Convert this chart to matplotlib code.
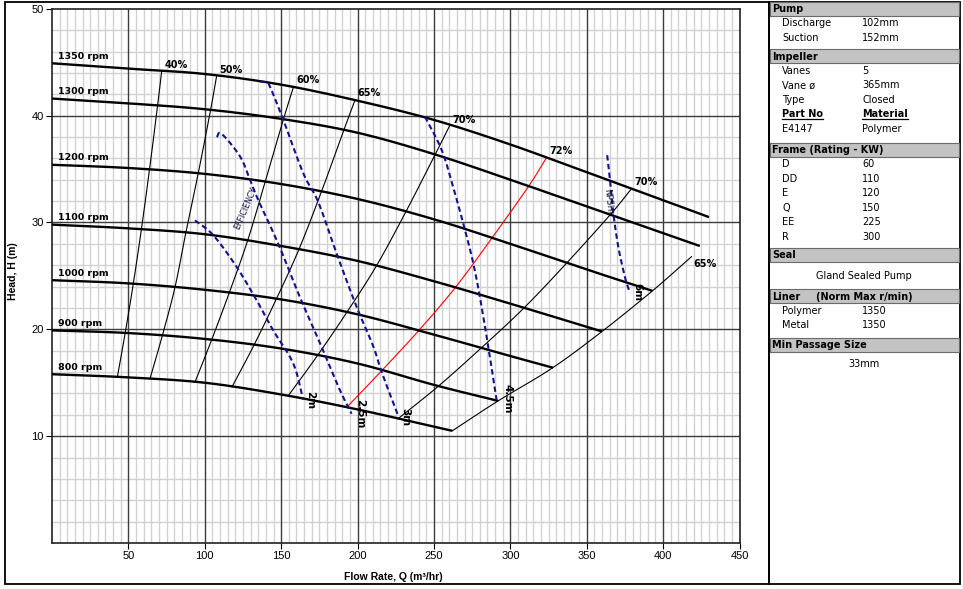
import numpy as np
import matplotlib
matplotlib.use("Agg")
import matplotlib.pyplot as plt
from matplotlib.patches import Rectangle

# ---------------- data ----------------
speeds = [800, 900, 1000, 1100, 1200, 1300, 1350]
speed_labels = ["800 rpm", "900 rpm", "1000 rpm", "1100 rpm", "1200 rpm", "1300 rpm", "1350 rpm"]

q_800 = [0, 50, 100, 150, 200, 262]
h_800 = [15.8, 15.5, 15.0, 13.9, 12.5, 10.5]
q_900 = [0, 50, 100, 150, 200, 250, 292]
h_900 = [19.9, 19.65, 19.1, 18.2, 16.8, 14.8, 13.3]
q_1000 = [0, 50, 100, 150, 200, 250, 300, 328]
h_1000 = [24.6, 24.3, 23.7, 22.8, 21.4, 19.5, 17.5, 16.4]
q_1100 = [0, 50, 100, 150, 200, 250, 300, 360]
h_1100 = [29.8, 29.45, 28.9, 27.8, 26.4, 24.5, 22.4, 19.8]
q_1200 = [0, 50, 100, 150, 200, 250, 300, 350, 393]
h_1200 = [35.4, 35.1, 34.55, 33.6, 32.2, 30.3, 28.0, 25.6, 23.6]
q_1300 = [0, 50, 100, 150, 200, 250, 300, 350, 400, 424]
h_1300 = [41.6, 41.15, 40.6, 39.7, 38.4, 36.4, 34.0, 31.5, 29.0, 27.8]
q_1350 = [0, 50, 100, 150, 200, 250, 300, 350, 400, 430]
h_1350 = [44.9, 44.4, 43.9, 42.9, 41.4, 39.6, 37.3, 34.7, 32.1, 30.5]

# efficiency iso-lines: flow at which each crosses the head curves (800 ... 1350 rpm)
eff_labels = ["40%", "50%", "60%", "65%", "70%", "72%", "70%"]
eff_q_40 = [42.8, 47.9, 53.2, 58.5, 63.8, 69.1, 71.8]
eff_q_50 = [64.1, 72.2, 80.5, 87.6, 95.7, 103.8, 107.8]
eff_q_60 = [93.6, 104.5, 116.0, 128.0, 139.5, 151.5, 158.0]
eff_q_65 = [117.8, 132.2, 146.9, 161.6, 176.3, 191.0, 198.3]
eff_q_70a = [154.6, 173.7, 193.0, 212.3, 231.6, 250.8, 260.5]
eff_q_72 = [192.9, 216.0, 240.0, 264.0, 288.0, 312.0, 323.7]
eff_q_70b = [226.6, 253.0, 281.0, 309.0, 337.0, 365.4, 379.4]
# 65% line on the right (end of operating range)
eff65_q = [262, 292, 327.7, 360, 393, 418.6]
eff65_h = [10.5, 13.3, 16.4, 19.8, 23.6, 26.8]
eff65_label = "65%"

# NPSHr curves
npsh_labels = ["2m", "2.5m", "3m", "4.5m", "6m"]
npsh_q_2 = [93.6, 105.6, 120.8, 134.0, 144.8, 157.9, 164.5]
npsh_h_2 = [30.2, 28.8, 25.85, 22.7, 19.9, 16.8, 13.4]
npsh_q_25 = [107.8, 111.0, 123.0, 129.6, 135.0, 148.1, 162.3, 175.4, 188.5, 196.1]
npsh_h_25 = [38.0, 38.3, 36.2, 34.0, 32.1, 28.0, 23.0, 18.7, 14.3, 12.1]
npsh_q_3 = [136.1, 140.5, 142.7, 151.4, 164.5, 174.3, 186.3, 199.4, 210.3, 215.8, 226.6]
npsh_h_3 = [43.2, 43.1, 42.7, 39.6, 34.6, 31.9, 27.1, 22.1, 18.4, 16.0, 11.9]
npsh_q_45 = [244.1, 255.0, 262.6, 270.3, 275.7, 280.1, 285.5, 291.0]
npsh_h_45 = [39.9, 36.8, 33.3, 29.3, 26.2, 23.0, 18.4, 13.4]
npsh_q_6 = [363.4, 365.2, 367.4, 370.7, 375.0, 377.8]
npsh_h_6 = [36.3, 34.0, 30.9, 27.7, 24.9, 23.6]

x_ticks = [50, 100, 150, 200, 250, 300, 350, 400, 450]
y_ticks = [10, 20, 30, 40, 50]

# side panel
panel_sections = [
    ("Pump", [("Discharge", "102mm"), ("Suction", "152mm")]),
    ("Impeller", [("Vanes", "5"), ("Vane ø", "365mm"), ("Type", "Closed"),
                  ("Part No", "Material"), ("E4147", "Polymer")]),
    ("Frame (Rating - KW)", [("D", "60"), ("DD", "110"), ("E", "120"), ("Q", "150"),
                             ("EE", "225"), ("R", "300")]),
    ("Seal", [("Gland Sealed Pump", None)]),
    ("Liner", [("Polymer", "1350"), ("Metal", "1350")]),
    ("Min Passage Size", [("33mm", None)]),
]
# layout of the panel (pixel rows)
band_tops = [1.7, 49.3, 142.7, 248.3, 289.3, 337.7]
single_row_offset = [None, None, None, 13.7, None, 12.3]

# ---------------- helpers ----------------
def smooth(x, y, n=16):
    x = np.asarray(x, float); y = np.asarray(y, float)
    if len(x) < 3:
        return x, y
    P = np.column_stack([x, y])
    P = np.vstack([2 * P[0] - P[1], P, 2 * P[-1] - P[-2]])
    out = []
    t = np.linspace(0, 1, n, endpoint=False)[:, None]
    for i in range(1, len(P) - 2):
        p0, p1, p2, p3 = P[i - 1], P[i], P[i + 1], P[i + 2]
        c = 0.5 * ((2 * p1) + (-p0 + p2) * t + (2 * p0 - 5 * p1 + 4 * p2 - p3) * t ** 2
                   + (-p0 + 3 * p1 - 3 * p2 + p3) * t ** 3)
        out.append(c)
    out.append(P[-2][None, :])
    c = np.vstack(out)
    return c[:, 0], c[:, 1]

W, Hpx = 963, 589
fig = plt.figure(figsize=(W / 100, Hpx / 100), dpi=100)

ax = fig.add_axes([52 / W, 1 - 543 / Hpx, (739.5 - 52) / W, (543 - 8.8) / Hpx])
ax.set_xlim(0, 450)
ax.set_ylim(0, 50)

# grid
for xv in np.arange(5, 450, 5):
    if xv % 50:
        ax.axvline(xv, color="#d2d2d2", lw=1.0, zorder=0)
for yv in np.arange(2, 50, 2):
    if yv % 10:
        ax.axhline(yv, color="#d2d2d2", lw=1.0, zorder=0)
for xv in x_ticks[:-1]:
    ax.axvline(xv, color="#3c3c3c", lw=1.0, zorder=0.5)
for yv in y_ticks[:-1]:
    ax.axhline(yv, color="#3c3c3c", lw=1.0, zorder=0.5)

ax.set_xticks(x_ticks)
ax.set_yticks(y_ticks)
ax.tick_params(axis="both", length=4, width=0.8, pad=2, labelsize=8, colors="black")
for lab in ax.get_xticklabels() + ax.get_yticklabels():
    lab.set_fontfamily("Liberation Sans")
for s in ax.spines.values():
    s.set_linewidth(1.2)
    s.set_color("#222222")

head_q = {800: q_800, 900: q_900, 1000: q_1000, 1100: q_1100, 1200: q_1200, 1300: q_1300, 1350: q_1350}
head_h = {800: h_800, 900: h_900, 1000: h_1000, 1100: h_1100, 1200: h_1200, 1300: h_1300, 1350: h_1350}

# head curves
for sp, lab in zip(speeds, speed_labels):
    xs, ys = smooth(head_q[sp], head_h[sp])
    ax.plot(xs, ys, color="black", lw=1.7, zorder=4, solid_capstyle="butt")
    ax.annotate(lab, (0, head_h[sp][0]), xytext=(4, 5), textcoords="offset points",
                fontsize=6.8, fontweight="bold", family="DejaVu Sans", va="center", ha="left", zorder=6)

# efficiency iso-lines
eff_sets = [eff_q_40, eff_q_50, eff_q_60, eff_q_65, eff_q_70a, eff_q_72, eff_q_70b]
eff_label_offsets = [(2, 4), (2, 4), (2, 5), (2, 5), (2, 4), (2, 5), (2, 5)]
for qs, lab, off in zip(eff_sets, eff_labels, eff_label_offsets):
    hs = [float(np.interp(qv, head_q[sp], head_h[sp])) for qv, sp in zip(qs, speeds)]
    xs, ys = smooth(qs, hs, 10)
    red = lab == "72%"
    ax.plot(xs, ys, color="red" if red else "black", lw=0.8, zorder=3)
    ax.annotate(lab, (qs[-1], hs[-1]), xytext=off, textcoords="offset points",
                fontsize=7, fontweight="bold", family="DejaVu Sans", ha="left", va="center", zorder=6)

xs, ys = smooth(eff65_q, eff65_h, 10)
ax.plot(xs, ys, color="black", lw=0.8, zorder=3)
ax.annotate(eff65_label, (eff65_q[-1], eff65_h[-1]), xytext=(1, -5), textcoords="offset points",
            fontsize=7, fontweight="bold", family="DejaVu Sans", ha="left", va="center", zorder=6)

# NPSH curves
npsh_sets = [(npsh_q_2, npsh_h_2), (npsh_q_25, npsh_h_25), (npsh_q_3, npsh_h_3),
             (npsh_q_45, npsh_h_45), (npsh_q_6, npsh_h_6)]
npsh_offsets = [(5, 0), (6, 0), (5, -1), (8, 1), (6, -1)]
for (qs, hs), lab, off in zip(npsh_sets, npsh_labels, npsh_offsets):
    xs, ys = smooth(qs, hs, 12)
    ax.plot(xs, ys, color="#12128c", lw=1.5, ls=(0, (2.6, 1.6)), zorder=5)
    ax.annotate(lab, (qs[-1], hs[-1]), xytext=off, textcoords="offset points",
                fontsize=7.5, fontweight="bold", family="DejaVu Sans", rotation=-90,
                ha="center", va="center", zorder=6)

ax.text(364.2, 31.9, "NPSHr", rotation=-84, fontsize=6, color="#101030", family="DejaVu Sans",
        ha="center", va="center", zorder=6)
ax.text(126.8, 31.3, "EFFICIENCY", rotation=67, fontsize=5.8, color="#101040", family="DejaVu Sans",
        ha="center", va="center", zorder=6)

fig.text(12.7 / W, 1 - 270.8 / Hpx, "Head, H (m)", rotation=90, fontsize=7.5, fontweight="bold",
         family="Liberation Sans", ha="center", va="center")
fig.text(393.5 / W, 1 - 576.7 / Hpx, "Flow Rate, Q (m³/hr)", fontsize=7.5, fontweight="bold",
         family="Liberation Sans", ha="center", va="center")

# ---------------- overlay (frame + side panel) ----------------
pax = fig.add_axes([0, 0, 1, 1], zorder=10)
pax.set_xlim(0, W)
pax.set_ylim(Hpx, 0)
pax.axis("off")

pax.add_patch(Rectangle((5, 1.5), 764, 582.5, fill=False, edgecolor="black", lw=1.3))
pax.add_patch(Rectangle((769, 1.5), 190.5, 582.5, fill=False, edgecolor="black", lw=1.3))

row_h = 14.45
band_h = 13.8
PL, PR = 770, 958.5
underline_texts = []
for (title, rows), top, single in zip(panel_sections, band_tops, single_row_offset):
    pax.add_patch(Rectangle((PL, top), PR - PL, band_h, facecolor="#c3c3c3", edgecolor="#6a6a6a", lw=0.8))
    pax.text(772.5, top + band_h / 2 + 0.3, title, fontsize=7, fontweight="bold", family="DejaVu Sans",
             ha="left", va="center")
    if title == "Liner":
        pax.text(816.5, top + band_h / 2 + 0.3, "(Norm Max r/min)", fontsize=7, fontweight="bold",
                 family="DejaVu Sans", ha="left", va="center")
    bottom = top + band_h
    if single is not None:
        pax.text(864, bottom + single, rows[0][0], fontsize=7, family="DejaVu Sans",
                 ha="center", va="center")
        continue
    for i, (a, b) in enumerate(rows):
        yc = bottom + 7.8 + i * row_h
        bold = a == "Part No"
        t1 = pax.text(782.3, yc, a, fontsize=7, family="DejaVu Sans", ha="left", va="center",
                      fontweight="bold" if bold else "normal")
        t2 = pax.text(862.3, yc, b, fontsize=7, family="DejaVu Sans", ha="left", va="center",
                      fontweight="bold" if bold else "normal")
        if bold:
            underline_texts += [t1, t2]

fig.canvas.draw()
r = fig.canvas.get_renderer()
for t in underline_texts:
    bb = t.get_window_extent(r)
    yline = Hpx - bb.y0 - 0.5
    pax.plot([bb.x0, bb.x1], [yline, yline], color="black", lw=0.9)

fig.savefig("out.png", dpi=100)
